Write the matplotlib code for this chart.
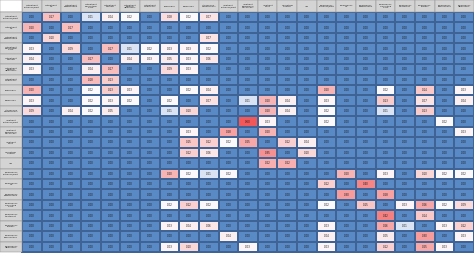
import numpy as np
import matplotlib
matplotlib.use("Agg")
import matplotlib.pyplot as plt
from matplotlib.colors import LinearSegmentedColormap, Normalize
from matplotlib.patches import Rectangle

col_labels = ["Outpatient\nEntrance/Exit", "Outpatient\nGP", "Outpatient\nRegistration",
              "Outpatient\nConsulting\nroom", "Outpatient\nCashier", "Outpatient\nClinical\nlaboratory",
              "Outpatient\nTreatment", "Pharmacy", "Radiology", "Ultrasound\nDepartment",
              "Inpatient\nEntrance/Exit", "Inpatient\nadmission/\ndischarge", "Inpatient\nward",
              "Operating\ntheatre", "ICU", "Emergency\nEntrance/Exit", "Emergency\nGP",
              "Emergency\nRegistration", "Emergency\nconsulting\nroom", "Emergency\ntreatment",
              "Emergency\ncashier", "Emergency\nobservation", "Emergency\nlaboratory"]
row_labels = col_labels

# Outpatient + support departments (rows 0-9)
outpatient_values = [
    [0, .17, 0, .01, .04, .02, 0, .08, .02, .07, 0, 0, 0, 0, 0, 0, 0, 0, 0, 0, 0, 0, 0],
    [.20, 0, .17, 0, 0, 0, 0, 0, 0, 0, 0, 0, 0, 0, 0, 0, 0, 0, 0, 0, 0, 0, 0],
    [0, .10, 0, 0, 0, 0, 0, 0, 0, .07, 0, 0, 0, 0, 0, 0, 0, 0, 0, 0, 0, 0, 0],
    [.03, 0, .09, 0, .17, .01, .02, .03, .03, .02, 0, 0, 0, 0, 0, 0, 0, 0, 0, 0, 0, 0, 0],
    [.04, 0, 0, .17, 0, .04, .03, .05, .03, .06, 0, 0, 0, 0, 0, 0, 0, 0, 0, 0, 0, 0, 0],
    [.03, 0, 0, .04, .17, 0, 0, .09, .03, 0, 0, 0, 0, 0, 0, 0, 0, 0, 0, 0, 0, 0, 0],
    [0, 0, 0, .18, .13, 0, 0, 0, 0, 0, 0, 0, 0, 0, 0, 0, 0, 0, 0, 0, 0, 0, 0],
    [.20, 0, 0, .02, .13, .03, 0, 0, .02, .04, 0, 0, 0, 0, 0, .20, 0, 0, .02, 0, .14, 0, .03],
    [.03, 0, 0, .02, .03, .02, 0, .02, 0, .07, 0, .01, .20, .04, 0, .03, 0, 0, .13, 0, .07, 0, .04],
    [.09, 0, .04, .02, .05, 0, 0, .01, .10, 0, 0, 0, .20, .04, 0, .02, 0, 0, .01, 0, .13, 0, 0],
]
# Inpatient departments (rows 10-14)
inpatient_values = [
    [0, 0, 0, 0, 0, 0, 0, 0, 0, 0, 0, .60, .03, 0, 0, .02, 0, 0, 0, 0, 0, .02, 0],
    [0, 0, 0, 0, 0, 0, 0, 0, .03, 0, .28, 0, .20, 0, 0, 0, 0, 0, 0, 0, 0, 0, .03],
    [0, 0, 0, 0, 0, 0, 0, 0, .15, .12, .02, .25, 0, .12, .04, 0, 0, 0, 0, 0, 0, 0, 0],
    [0, 0, 0, 0, 0, 0, 0, 0, .12, .06, 0, 0, .35, 0, .10, 0, 0, 0, 0, 0, 0, 0, 0],
    [0, 0, 0, 0, 0, 0, 0, 0, 0, 0, 0, 0, .22, .22, 0, 0, 0, 0, 0, 0, 0, 0, 0],
]
# Emergency departments (rows 15-22)
emergency_values = [
    [0, 0, 0, 0, 0, 0, 0, .20, .02, .01, .02, 0, 0, 0, 0, 0, .20, 0, .03, 0, .10, .02, .02],
    [0, 0, 0, 0, 0, 0, 0, 0, 0, 0, 0, 0, 0, 0, 0, .12, 0, .40, 0, 0, 0, 0, 0],
    [0, 0, 0, 0, 0, 0, 0, 0, 0, 0, 0, 0, 0, 0, 0, 0, .30, 0, .28, 0, 0, 0, 0],
    [0, 0, 0, 0, 0, 0, 0, .02, .12, .02, 0, 0, 0, 0, 0, .02, 0, .15, 0, .03, .26, .02, .09],
    [0, 0, 0, 0, 0, 0, 0, 0, 0, 0, 0, 0, 0, 0, 0, 0, 0, 0, .42, 0, .14, 0, 0],
    [0, 0, 0, 0, 0, 0, 0, .03, .04, .06, 0, 0, 0, 0, 0, .03, 0, 0, .26, .01, 0, .03, .12],
    [0, 0, 0, 0, 0, 0, 0, 0, 0, 0, .04, 0, 0, 0, 0, .04, 0, 0, .05, 0, .30, 0, .03],
    [0, 0, 0, 0, 0, 0, 0, .03, .10, 0, 0, .03, 0, 0, 0, .03, 0, 0, .12, 0, .25, .03, 0],
]

data = np.array(outpatient_values + inpatient_values + emergency_values, dtype=float)
n_rows, n_cols = data.shape

vmax = data.max()
eps = 0.012 / vmax
cmap = LinearSegmentedColormap.from_list(
    "rwb", [(0.0, "#5A8AC6"), (eps, "#FCFCFF"), (0.12, "#FBE0E1"),
            (0.33, "#F7B4B4"), (1.0, "#F2585A")])
norm = Normalize(vmin=0, vmax=vmax)

fig = plt.figure(figsize=(4.74, 2.56), dpi=100)
ax = fig.add_axes([0, 0, 1, 1])
label_w = 1.12
header_h = 1.15
ax.set_xlim(-label_w, n_cols)
ax.set_ylim(n_rows + 0.38, -header_h)
ax.axis("off")

ax.pcolormesh(np.arange(n_cols + 1), np.arange(n_rows + 1), data, cmap=cmap, norm=norm,
              edgecolors="#3f6394", linewidth=0.35)

for i in range(n_rows):
    for j in range(n_cols):
        ax.text(j + 0.5, i + 0.5, f"{data[i, j]:.2f}", ha="center", va="center",
                fontsize=1.9, color="#1a1a1a")

grey = "#d4d4d4"
edge = "#8c8c8c"
for j, lab in enumerate(col_labels):
    ax.add_patch(Rectangle((j, -header_h), 1, header_h, facecolor=grey, edgecolor=edge, linewidth=0.35))
    ax.text(j + 0.5, -header_h / 2, lab, ha="center", va="center", fontsize=1.7,
            color="#222222", linespacing=1.0)
ax.add_patch(Rectangle((-label_w, -header_h), label_w, header_h, facecolor="white", edgecolor=edge, linewidth=0.35))
for i, lab in enumerate(row_labels):
    ax.add_patch(Rectangle((-label_w, i), label_w, 1, facecolor=grey, edgecolor=edge, linewidth=0.35))
    ax.text(-label_w / 2, i + 0.5, lab, ha="center", va="center", fontsize=1.7,
            color="#222222", linespacing=1.0)

fig.savefig("out.png", dpi=100)
